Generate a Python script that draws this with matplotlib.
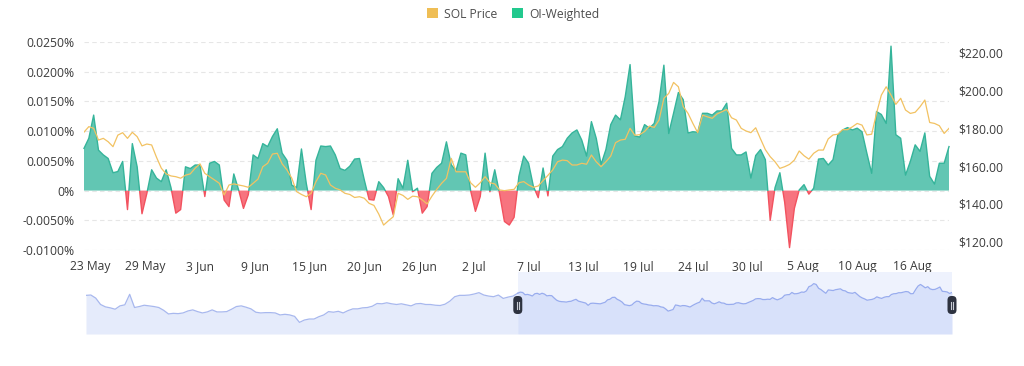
import numpy as np
import pandas as pd
import matplotlib.pyplot as plt
import matplotlib.dates as mdates
from matplotlib.patches import Rectangle, Patch, FancyBboxPatch
from matplotlib.lines import Line2D

plt.rcParams['font.family'] = ['Open Sans', 'DejaVu Sans']

# 12h samples of OI-weighted funding rate (%) and SOL price
times = pd.date_range('2024-05-22 16:00', periods=180, freq='12h')

funding = [
    7.1, 8.8, 12.7, 6.8, 6.0, 5.4, 3.0, 3.2, 4.9, -3.2, 7.9, 4.0, -3.9, -0.5, 3.5,
    2.1, 1.5, 3.5, 0.5, -3.8, -3.2, 4.0, 3.7, 4.3, 4.3, -1.0, 4.6, 4.9, 4.3, -1.6,
    -2.7, 2.8, 0.1, -3.0, -0.7, 6.0, 5.4, 7.9, 7.4, 9.1, 10.4, 6.3, 5.1, 0.9, 0.5,
    7.0, 1.2, -3.2, 5.1, 7.5, 7.4, 7.5, 6.0, 3.7, 3.4, 4.1, 5.3, 5.4, 1.8, -1.5,
    -1.6, 1.5, 0.5, -1.0, -4.1, 2.0, 0.4, 5.1, -0.2, 0.4, -3.8, -2.7, 2.9, 3.9, 4.6,
    8.2, 4.3, 3.4, 6.3, 6.0, 0.0, -3.5, -1.0, 6.3, -0.2, 3.5, -0.5, -5.2, -5.8, -4.5,
    2.4, 5.8, 4.6, 0.7, -1.2, 3.8, -0.9, 5.8, 6.9, 7.4, 8.8, 9.7, 10.2, 8.5, 5.8,
    11.6, 8.8, 4.4, 6.9, 11.1, 12.7, 11.9, 15.8, 21.2, 9.2, 9.0, 11.1, 10.5, 11.3, 15.0,
    21.1, 9.6, 13.0, 16.5, 15.3, 9.7, 9.9, 9.8, 13.0, 13.0, 12.7, 13.4, 13.4, 14.7,
    7.1, 6.0, 6.0, 6.5, 2.1, 5.9, 6.9, 5.2, -5.0, 0.5, 3.0, -2.0, -9.6, -3.0, 0.1,
    1.0, -0.6, 0.4, 5.3, 5.4, 4.3, 5.2, 9.4, 10.2, 10.6, 10.2, 10.5, 9.9, 6.3, 2.9,
    13.3, 12.8, 11.3, 24.3, 9.4, 8.8, 2.6, 4.9, 7.7, 6.6, 9.7, 2.4, 1.1, 4.6, 4.6, 7.4,
]
funding = np.array(funding) / 1000.0

price = [
    178.0, 180.9, 180.0, 173.8, 174.7, 172.9, 170.3, 176.4, 177.7, 174.7, 177.9, 175.6,
    170.7, 171.7, 171.2, 164.7, 158.9, 155.9, 154.8, 154.4, 153.6, 155.2, 155.9, 158.9,
    161.2, 156.2, 154.4, 152.7, 150.9, 144.7, 150.0, 150.6, 150.0, 149.5, 148.8, 150.9,
    153.1, 159.7, 161.5, 166.4, 166.8, 161.2, 158.0, 153.6, 146.5,
    145.0, 143.8, 145.6, 151.8, 156.2, 155.3, 150.0, 148.3, 147.4, 145.6, 145.0, 143.4,
    143.8, 143.0, 140.3, 139.2, 134.6, 128.8, 131.1, 133.2, 145.6, 144.5, 142.4, 144.1,
    143.8, 142.1, 140.0, 144.1, 147.7, 150.9, 153.5, 164.1, 157.0, 157.0, 157.0, 151.2,
    148.8, 151.2, 154.4, 151.2, 150.6, 147.4, 147.0, 147.4, 147.7,
    151.2, 151.8, 150.0, 148.8, 149.5, 152.3, 155.1, 158.0, 162.3, 163.2, 162.9, 160.6,
    160.6, 161.5, 161.0, 165.9, 162.3, 159.7, 162.3, 165.3, 172.4, 173.8, 174.2, 180.0,
    176.3, 176.7, 178.3, 181.2, 180.5, 184.4, 195.9, 198.5, 204.3, 202.0, 191.5, 187.9,
    182.6, 177.7, 187.0, 186.1, 185.3, 187.6, 188.8, 190.0,
    185.6, 184.4, 180.0, 178.6, 177.7, 180.3, 174.4, 168.7, 165.0, 162.3, 158.8, 159.7,
    160.9, 163.2, 168.0, 165.5, 163.7, 166.8, 168.5, 168.5, 174.4, 176.5, 176.9, 179.3,
    179.3, 180.8, 182.6, 181.7, 176.5, 176.9, 187.9, 197.6, 202.0, 197.6, 192.7, 195.9,
    189.7, 187.9, 188.5, 191.4, 195.0, 183.1, 182.6, 181.4, 177.3, 180.0,
]

# earlier daily prices, only shown in the zoom slider
early_times = pd.date_range(end=times[0] - pd.Timedelta(days=1), periods=89, freq='D')
early_price = [
    172.1, 173.0, 164.6, 147.0, 140.5, 137.8, 134.0, 143.2, 146.1, 174.9,
    138.7, 141.4, 145.0, 143.2, 141.4, 138.7, 131.1, 121.0, 122.7, 121.9,
    123.8, 129.2, 132.2, 127.5, 123.8, 126.6, 132.2, 126.6, 126.6, 127.5,
    134.0, 141.4, 143.2, 139.5, 135.0, 125.8, 123.8, 124.7, 124.7, 123.8,
    118.3, 120.1, 118.3, 114.4, 97.9, 104.3, 107.1, 107.1, 113.5, 118.3,
    127.5, 125.8, 128.3, 123.8, 130.2, 135.0, 135.0, 137.8, 138.7, 142.2,
    149.8, 148.9, 151.7, 148.9, 147.0, 148.9, 146.1, 143.2, 148.9, 149.8,
    147.0, 147.0, 145.0, 144.2, 147.8, 156.2, 168.4, 172.1, 172.1, 173.0,
    175.8, 179.5, 173.0, 170.1, 168.4, 173.0, 163.7, 167.3, 170.1,
]

tick_times = pd.date_range('2024-05-23 08:00', periods=16, freq='136h')
tick_labels = ['23 May', '29 May', '3 Jun', '9 Jun', '15 Jun', '20 Jun', '26 Jun', '2 Jul',
               '7 Jul', '13 Jul', '19 Jul', '24 Jul', '30 Jul', '5 Aug', '10 Aug', '16 Aug']
left_ticks = [-0.01, -0.005, 0, 0.005, 0.01, 0.015, 0.02, 0.025]
left_labels = ['-0.0100%', '-0.0050%', '0%', '0.0050%', '0.0100%', '0.0150%', '0.0200%', '0.0250%']
right_ticks = [120, 140, 160, 180, 200, 220]

GREEN = '#62c6b3'
GREEN_EDGE = '#35b49a'
RED = '#f7747f'
RED_EDGE = '#f2525f'
ORANGE = '#f2c262'
TXT = '#3a3a3a'

fig = plt.figure(figsize=(10.24, 3.66), dpi=100)
W, H = 1024, 366

ax = fig.add_axes([84 / W, 1 - 250 / H, 865 / W, 208 / H])
ax.fill_between(times, funding, 0, where=funding >= 0, interpolate=True,
                color=GREEN, lw=0, zorder=2)
ax.fill_between(times, funding, 0, where=funding <= 0, interpolate=True,
                color=RED, lw=0, zorder=2)
x0 = mdates.date2num(times[0]) - 5
lg, = ax.plot(times, funding, color=GREEN_EDGE, lw=1.0, zorder=3)
lg.set_clip_path(Rectangle((x0, 0), 200, 1, transform=ax.transData))
lr, = ax.plot(times, funding, color=RED_EDGE, lw=1.0, zorder=3)
lr.set_clip_path(Rectangle((x0, -1), 200, 1, transform=ax.transData))

ax.set_xlim(times[0], times[-1])
ax.set_ylim(-0.01, 0.025)
ax.set_yticks(left_ticks)
ax.set_yticklabels(left_labels)
ax.set_xticks(tick_times)
ax.set_xticklabels(tick_labels)
ax.yaxis.grid(True, ls=(0, (4, 3)), color='#e6e6e6', lw=0.8)
ax.set_axisbelow(True)
for s in ax.spines.values():
    s.set_visible(False)
ax.tick_params(length=0, labelsize=8.7, colors=TXT)
ax.tick_params(axis='y', pad=7)
ax.tick_params(axis='x', pad=7)

ax2 = ax.twinx()
ax2.plot(times, price, color=ORANGE, lw=0.9)
ax2.set_ylim(115.6, 225.7)
ax2.set_yticks(right_ticks)
ax2.set_yticklabels(['$%.2f' % v for v in right_ticks])
for s in ax2.spines.values():
    s.set_visible(False)
ax2.tick_params(length=0, labelsize=8.7, colors=TXT, pad=7)

fig.legend(handles=[Patch(fc='#efbe55'), Patch(fc='#22c98e')],
           labels=['SOL Price', 'OI-Weighted'], loc='upper center',
           bbox_to_anchor=(0.501, 1.009), ncol=2, frameon=False,
           handlelength=0.9, handleheight=0.9, columnspacing=1.2,
           handletextpad=0.5, fontsize=8.7, labelcolor='#4d4d4d')

# zoom slider
all_t = early_times.append(times)
all_p = np.array(early_price + price)
rng = all_p.max() - all_p.min()
lo, hi = all_p.min() - 0.3 * rng, all_p.max() + 0.3 * rng

axs = fig.add_axes([86 / W, 1 - 334 / H, 866 / W, 62 / H])
axs.axvspan(times[0], times[-1], color='#eef2fd', lw=0, zorder=0)
ne = len(early_price)
axs.fill_between(all_t[:ne + 1], all_p[:ne + 1], lo, color='#e5ebfb', lw=0, zorder=1)
axs.fill_between(times, price, lo, color='#d8e1fa', lw=0, zorder=1)
axs.plot(all_t[:ne + 1], all_p[:ne + 1], color='#a8b8ee', lw=0.9, zorder=2)
axs.plot(times, price, color='#98acee', lw=0.9, zorder=2)
axs.set_xlim(all_t[0], all_t[-1])
axs.set_ylim(lo, hi)
axs.axis('off')

# handles
for t in (times[0], times[-1]):
    px, _ = axs.transData.transform((mdates.date2num(t), lo))
    cx, cy = px / 100.0, (H - 305) / 100.0
    hb = FancyBboxPatch((cx - 0.045, cy - 0.09), 0.09, 0.18,
                        boxstyle='round,pad=0,rounding_size=0.04',
                        transform=fig.dpi_scale_trans, fc='#2e3340', ec='none', zorder=5)
    fig.add_artist(hb)
    for dx in (-0.012, 0.012):
        fig.add_artist(Line2D([cx + dx, cx + dx], [cy - 0.035, cy + 0.035],
                              transform=fig.dpi_scale_trans, color='#c9cdd6', lw=0.8, zorder=6))

fig.savefig('out.png', dpi=100)
